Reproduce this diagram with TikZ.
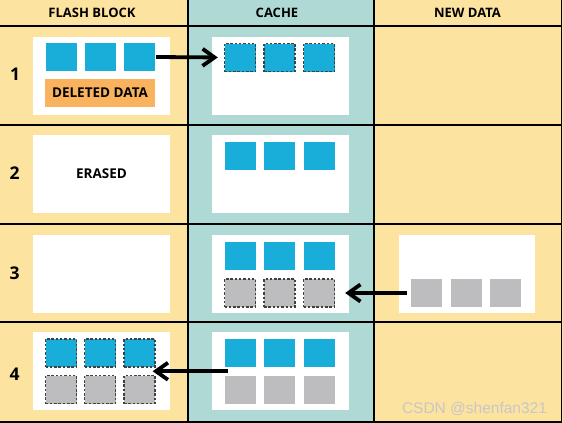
\documentclass[tikz,border=0pt]{standalone}
\usepackage{fontspec}
\setmainfont{Open Sans}
\newfontfamily\wmfont{Liberation Sans}
\usetikzlibrary{calc,arrows.meta}
\definecolor{flashbg}{HTML}{FDE3A0}
\definecolor{cachebg}{HTML}{AFD9D5}
\definecolor{cellblue}{HTML}{19AED9}
\definecolor{cellgrey}{HTML}{BDBDBF}
\definecolor{deloran}{HTML}{F9B35E}

\begin{document}
\begin{tikzpicture}[x=1pt, y=-1pt,
  every node/.style = {inner sep=0pt, font=\bfseries},
  panel/.style = {fill=white, minimum width=137pt, minimum height=78pt},
  bcell/.style = {fill=cellblue, minimum width=31pt, minimum height=28pt},
  gcell/.style = {fill=cellgrey, minimum width=31pt, minimum height=28pt},
  dcell/.style = {draw=black!75, line width=1.3pt, dash pattern=on 2.5pt off 1.8pt},
  head/.style = {font=\bfseries\fontsize{13}{15}\selectfont},
  rownum/.style = {font=\bfseries\fontsize{17.5}{20}\selectfont},
  gridline/.style = {line width=2pt},
  bigarrow/.style = {-{Straight Barb[length=12pt, width=17pt]}, line width=3.8pt}]

\useasboundingbox (0,0) rectangle (563,423);
\fill [flashbg] (0,0) rectangle (188,423);
\fill [cachebg] (188,0) rectangle (374,423);
\fill [flashbg] (374,0) rectangle (563,423);

% grid
\draw [gridline] (0,26) -- (561,26);
\draw [gridline] (0,125) -- (561,125);
\draw [gridline] (0,224) -- (561,224);
\draw [gridline] (0,322) -- (561,322);
\draw [gridline] (0,421.5) -- (561,421.5);
\draw [gridline] (188,0) -- (188,423);
\draw [gridline] (374,0) -- (374,423);
\draw [line width=1pt] (561,0) -- (561,423);

% column heads and row numbers
\node [head] (hflash) at (92,13) {FLASH BLOCK};
\node [head] (hcache) at (277,13) {CACHE};
\node [head] (hnew) at (467.5,13) {NEW DATA};

\node [rownum] (r1) at (15,74) {1};
\node [rownum] (r2) at (14.5,173) {2};
\node [rownum] (r3) at (14.5,273) {3};
\node [rownum] (r4) at (14.5,374) {4};

% panels
\node [panel] (f1) at (101.5,75.5) {};
\node [panel] (c1) at (280.5,75.5) {};
\node [panel, font=\bfseries\fontsize{13.5}{16}\selectfont] (f2) at (101.5,174) {ERASED};
\node [panel] (c2) at (280.5,174) {};
\node [panel] (f3) at (101.5,273.5) {};
\node [panel] (c3) at (280.5,274) {};
\node [panel, minimum width=136pt] (n3) at (467,274) {};
\node [panel] (f4) at (101.5,371) {};
\node [panel] (c4) at (280.5,371) {};

% row 1
\node [bcell] (f1a) at (61,57) {};
\node [bcell] (f1b) at (100,57) {};
\node [bcell] (f1c) at (139.5,57) {};
\node [fill=deloran, minimum width=110pt, minimum height=28pt,
       font=\bfseries\fontsize{13.5}{16}\selectfont] (del) at (100,93) {DELETED DATA};
\node [bcell, dcell] (c1a) at (240,57.5) {};
\node [bcell, dcell] (c1b) at (279.5,57.5) {};
\node [bcell, dcell] (c1c) at (319,57.5) {};
\draw [bigarrow, shorten <=1pt, shorten >=6pt] (f1c.east) -- (c1a.west);

% row 2
\node [bcell] (c2a) at (240,155.5) {};
\node [bcell] (c2b) at (279.5,155.5) {};
\node [bcell] (c2c) at (319,155.5) {};

% row 3
\node [bcell] (c3a) at (240,256) {};
\node [bcell] (c3b) at (279.5,256) {};
\node [bcell] (c3c) at (319,256) {};
\node [gcell, dcell] (c3d) at (240,293) {};
\node [gcell, dcell] (c3e) at (279.5,293) {};
\node [gcell, dcell] (c3f) at (319,293) {};
\node [gcell] (n3a) at (426.5,293) {};
\node [gcell] (n3b) at (466.5,293) {};
\node [gcell] (n3c) at (505.5,293) {};
\draw [bigarrow, shorten <=4pt, shorten >=10pt] (n3a.west) -- (c3f.east);

% row 4
\node [bcell, dcell] (f4a) at (61,353) {};
\node [bcell, dcell] (f4b) at (100,353) {};
\node [bcell, dcell] (f4c) at (139.5,353) {};
\node [gcell, dcell] (f4d) at (61,389.5) {};
\node [gcell, dcell] (f4e) at (100,389.5) {};
\node [gcell, dcell] (f4f) at (139.5,389.5) {};
\node [bcell] (c4a) at (240,353) {};
\node [bcell] (c4b) at (279.5,353) {};
\node [bcell] (c4c) at (319,353) {};
\node [gcell] (c4d) at (240,389.5) {};
\node [gcell] (c4e) at (279.5,389.5) {};
\node [gcell] (c4f) at (319,389.5) {};
\coordinate (a4s) at ($(c4a.west)!.5!(c4d.west)$);
\coordinate (a4e) at ($(f4c.east)!.5!(f4f.east)$);
\draw [bigarrow, shorten <=-4pt, shorten >=-3pt] (a4s) -- (a4e);

\node [anchor=base, font=\wmfont\fontsize{15.5}{18}\selectfont, text=black!22] (mark) at (474.5,413) {CSDN @shenfan321};

\end{tikzpicture}
\end{document}
